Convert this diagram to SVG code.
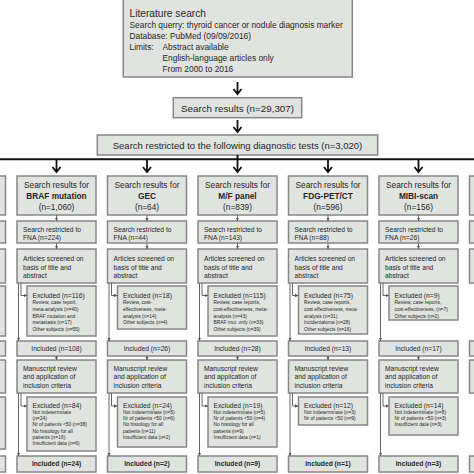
<svg xmlns="http://www.w3.org/2000/svg" width="474" height="474" viewBox="0 0 474 474">
<style>
.box{fill:#e1e3e1;stroke:#878787;stroke-width:1.5}
text{font-family:"Liberation Sans",Arial,sans-serif;fill:#262626}
.h{font-size:8.4px}
.big{font-size:9.8px}
.lit{font-size:10.2px}
.tt{font-size:8.3px;text-anchor:middle}
.b{font-weight:bold}
.m{font-size:6.7px}
.c{text-anchor:middle}
.s{font-size:4.9px}
.conn{stroke:#666;stroke-width:1;fill:none}
.arr{stroke:#111;stroke-width:1.8;fill:none}
</style>
<defs>
<marker id="ah" viewBox="0 0 6 6" refX="6" refY="3" markerWidth="3.5" markerHeight="3.5" orient="auto" markerUnits="userSpaceOnUse"><path d="M0,0 L6,3 L0,6 z" fill="#555"/></marker>
</defs>
<rect width="474" height="474" fill="#fff"/>

<g id="lit-search">
<rect class="box" x="123.3" y="-1" width="229" height="78"/>
<text class="lit" x="129.5" y="16.5">Literature search</text>
<text class="h" x="129.5" y="27.5">Search querry: thyroid cancer or nodule diagnosis marker</text>
<text class="h" x="129.5" y="38.5">Database: PubMed (09/09/2016)</text>
<text class="h" x="129.5" y="49.5">Limits:</text>
<text class="h" x="162.5" y="49.5">Abstract available</text>
<text class="h" x="162.5" y="60.5">English-language articles only</text>
<text class="h" x="162.5" y="72">From 2000 to 2016</text>
</g>
<g id="search-results">
<rect class="box" x="173.3" y="97.7" width="128.4" height="20"/>
<text class="big c" x="237.5" y="112">Search results (n=29,307)</text>
</g>
<g id="search-restricted">
<rect class="box" x="97.3" y="135" width="280.4" height="20"/>
<text class="big c" x="237.5" y="148.5" style="font-size:9.5px">Search restricted to the following diagnostic tests (n=3,020)</text>
</g>

<g id="partial-left">
<rect class="box" x="-73.5" y="176" width="79" height="39"/>
<rect class="box" x="-73.5" y="221" width="79" height="22"/>
<rect class="box" x="-73.5" y="249" width="79" height="34"/>
<rect class="box" x="-63.5" y="286" width="69" height="50"/>
<rect class="box" x="-73.5" y="341" width="79" height="15"/>
<rect class="box" x="-73.5" y="360" width="79" height="33"/>
<rect class="box" x="-63.5" y="397" width="69" height="52"/>
<rect class="box" x="-73.5" y="456" width="79" height="16"/>
</g>
<g id="partial-right">
<rect class="box" x="469.5" y="176" width="79" height="39"/>
<rect class="box" x="469.5" y="221" width="79" height="22"/>
<rect class="box" x="469.5" y="249" width="79" height="34"/>
<rect class="box" x="469.5" y="341" width="79" height="15"/>
<rect class="box" x="469.5" y="360" width="79" height="33"/>
<rect class="box" x="469.5" y="456" width="79" height="16"/>
</g>

<!-- BRAF column x=17 -->
<g id="braf-results"><rect class="box" x="17" y="176" width="79" height="39"/>
<text class="tt" x="56.5" y="188">Search results for</text><text class="tt b" x="56.5" y="199">BRAF mutation</text><text class="tt" x="56.5" y="210">(n=1,060)</text></g>
<g id="braf-fna"><rect class="box" x="17" y="221" width="79" height="22"/>
<text class="m" x="23" y="232.4">Search restricted to</text><text class="m" x="23" y="240.4">FNA (n=224)</text></g>
<g id="braf-screen"><rect class="box" x="17" y="249" width="79" height="34"/>
<text class="m" x="23" y="261.4">Articles screened on</text><text class="m" x="23" y="269.7">basis of title and</text><text class="m" x="23" y="278.4">abstract</text></g>
<g id="braf-excl1"><rect class="box" x="27" y="286" width="69" height="50"/>
<text class="m" x="32.5" y="297.9">Excluded (n=116)</text>
<text class="s" x="32.5" y="304.3">Review, case report,</text><text class="s" x="32.5" y="310.9">meta-analysis (n=40)</text><text class="s" x="32.5" y="317.5">BRAF mutation and</text><text class="s" x="32.5" y="324.1">metastasis (n=17)</text><text class="s" x="32.5" y="330.7">Other subjects (n=55)</text></g>
<g id="braf-incl1"><rect class="box" x="17" y="341" width="79" height="15"/>
<text class="m c" x="56.5" y="350.9">Included (n=108)</text></g>
<g id="braf-review"><rect class="box" x="17" y="360" width="79" height="33"/>
<text class="m" x="23" y="370.7">Manuscript review</text><text class="m" x="23" y="379.1">and application of</text><text class="m" x="23" y="388.1">inclusion criteria</text></g>
<g id="braf-excl2"><rect class="box" x="27" y="397" width="69" height="54"/>
<text class="m" x="32.5" y="408.4">Excluded (n=84)</text>
<text class="s" x="32.5" y="414.2">Not indeterminate</text><text class="s" x="32.5" y="420.3">(n=24)</text><text class="s" x="32.5" y="426.4">Nr of patients &lt;50 (n=38)</text><text class="s" x="32.5" y="432.5">No histology for all</text><text class="s" x="32.5" y="438.6">patients (n=16)</text><text class="s" x="32.5" y="444.7">Insufficient data (n=6)</text></g>
<g id="braf-incl2"><rect class="box" x="17" y="456" width="79" height="16"/>
<text class="m c b" x="56.5" y="466.4">Included (n=24)</text></g>

<!-- GEC column x=107.5 -->
<g id="gec-results"><rect class="box" x="107.5" y="176" width="79" height="39"/>
<text class="tt" x="147" y="188">Search results for</text><text class="tt b" x="147" y="199">GEC</text><text class="tt" x="147" y="210">(n=64)</text></g>
<g id="gec-fna"><rect class="box" x="107.5" y="221" width="79" height="22"/>
<text class="m" x="113.5" y="232.4">Search restricted to</text><text class="m" x="113.5" y="240.4">FNA (n=44)</text></g>
<g id="gec-screen"><rect class="box" x="107.5" y="249" width="79" height="34"/>
<text class="m" x="113.5" y="261.4">Articles screened on</text><text class="m" x="113.5" y="269.7">basis of title and</text><text class="m" x="113.5" y="278.4">abstract</text></g>
<g id="gec-excl1"><rect class="box" x="117.5" y="286" width="69" height="43"/>
<text class="m" x="123" y="297.9">Excluded (n=18)</text>
<text class="s" x="123" y="304.3">Review, cost-</text><text class="s" x="123" y="310.9">effectiveness, meta-</text><text class="s" x="123" y="317.5">analysis (n=14)</text><text class="s" x="123" y="324.1">Other subjects (n=4)</text></g>
<g id="gec-incl1"><rect class="box" x="107.5" y="341" width="79" height="15"/>
<text class="m c" x="147" y="350.9">Included (n=26)</text></g>
<g id="gec-review"><rect class="box" x="107.5" y="360" width="79" height="33"/>
<text class="m" x="113.5" y="370.7">Manuscript review</text><text class="m" x="113.5" y="379.1">and application of</text><text class="m" x="113.5" y="388.1">inclusion criteria</text></g>
<g id="gec-excl2"><rect class="box" x="117.5" y="397" width="69" height="50"/>
<text class="m" x="123" y="408.4">Excluded (n=24)</text>
<text class="s" x="123" y="414.2">Not indeterminate (n=5)</text><text class="s" x="123" y="420.3">Nr of patients &lt;50 (n=6)</text><text class="s" x="123" y="426.4">No histology for all</text><text class="s" x="123" y="432.5">patients (n=11)</text><text class="s" x="123" y="438.6">Insufficient data (n=2)</text></g>
<g id="gec-incl2"><rect class="box" x="107.5" y="456" width="79" height="16"/>
<text class="m c b" x="147" y="466.4">Included (n=2)</text></g>

<!-- M/F column x=198 -->
<g id="mf-results"><rect class="box" x="198" y="176" width="79" height="39"/>
<text class="tt" x="237.5" y="188">Search results for</text><text class="tt b" x="237.5" y="199">M/F panel</text><text class="tt" x="237.5" y="210">(n=839)</text></g>
<g id="mf-fna"><rect class="box" x="198" y="221" width="79" height="22"/>
<text class="m" x="204" y="232.4">Search restricted to</text><text class="m" x="204" y="240.4">FNA (n=143)</text></g>
<g id="mf-screen"><rect class="box" x="198" y="249" width="79" height="34"/>
<text class="m" x="204" y="261.4">Articles screened on</text><text class="m" x="204" y="269.7">basis of title and</text><text class="m" x="204" y="278.4">abstract</text></g>
<g id="mf-excl1"><rect class="box" x="208" y="286" width="69" height="50"/>
<text class="m" x="213.5" y="297.9">Excluded (n=115)</text>
<text class="s" x="213.5" y="304.3">Review, case reports,</text><text class="s" x="213.5" y="310.9">cost-effectiveness, meta-</text><text class="s" x="213.5" y="317.5">analysis (n=43)</text><text class="s" x="213.5" y="324.1">BRAF mut. only (n=33)</text><text class="s" x="213.5" y="330.7">Other subjects (n=39)</text></g>
<g id="mf-incl1"><rect class="box" x="198" y="341" width="79" height="15"/>
<text class="m c" x="237.5" y="350.9">Included (n=28)</text></g>
<g id="mf-review"><rect class="box" x="198" y="360" width="79" height="33"/>
<text class="m" x="204" y="370.7">Manuscript review</text><text class="m" x="204" y="379.1">and application of</text><text class="m" x="204" y="388.1">inclusion criteria</text></g>
<g id="mf-excl2"><rect class="box" x="208" y="397" width="69" height="50"/>
<text class="m" x="213.5" y="408.4">Excluded (n=19)</text>
<text class="s" x="213.5" y="414.2">Not indeterminate (n=5)</text><text class="s" x="213.5" y="420.3">Nr of patients &lt;50 (n=4)</text><text class="s" x="213.5" y="426.4">No histology for all</text><text class="s" x="213.5" y="432.5">patients (n=9)</text><text class="s" x="213.5" y="438.6">Insufficient data (n=1)</text></g>
<g id="mf-incl2"><rect class="box" x="198" y="456" width="79" height="16"/>
<text class="m c b" x="237.5" y="466.4">Included (n=9)</text></g>

<!-- FDG column x=288.5 -->
<g id="fdg-results"><rect class="box" x="288.5" y="176" width="79" height="39"/>
<text class="tt" x="328" y="188">Search results for</text><text class="tt b" x="328" y="199">FDG-PET/CT</text><text class="tt" x="328" y="210">(n=596)</text></g>
<g id="fdg-fna"><rect class="box" x="288.5" y="221" width="79" height="22"/>
<text class="m" x="294.5" y="232.4">Search restricted to</text><text class="m" x="294.5" y="240.4">FNA (n=88)</text></g>
<g id="fdg-screen"><rect class="box" x="288.5" y="249" width="79" height="34"/>
<text class="m" x="294.5" y="261.4">Articles screened on</text><text class="m" x="294.5" y="269.7">basis of title and</text><text class="m" x="294.5" y="278.4">abstract</text></g>
<g id="fdg-excl1"><rect class="box" x="298.5" y="286" width="69" height="48"/>
<text class="m" x="304" y="297.9">Excluded (n=75)</text>
<text class="s" x="304" y="304.3">Review, case reports,</text><text class="s" x="304" y="310.9">cost effectiveness, meta-</text><text class="s" x="304" y="317.5">analysis (n=31)</text><text class="s" x="304" y="324.1">Incidentaloma (n=28)</text><text class="s" x="304" y="330.7">Other subjects (n=16)</text></g>
<g id="fdg-incl1"><rect class="box" x="288.5" y="341" width="79" height="15"/>
<text class="m c" x="328" y="350.9">Included (n=13)</text></g>
<g id="fdg-review"><rect class="box" x="288.5" y="360" width="79" height="33"/>
<text class="m" x="294.5" y="370.7">Manuscript review</text><text class="m" x="294.5" y="379.1">and application of</text><text class="m" x="294.5" y="388.1">inclusion criteria</text></g>
<g id="fdg-excl2"><rect class="box" x="298.5" y="397" width="69" height="28"/>
<text class="m" x="304" y="408.4">Excluded (n=12)</text>
<text class="s" x="304" y="414.2">Not indeterminate (n=3)</text><text class="s" x="304" y="420.3">Nr of patients &lt;50 (n=9)</text></g>
<g id="fdg-incl2"><rect class="box" x="288.5" y="456" width="79" height="16"/>
<text class="m c b" x="328" y="466.4">Included (n=1)</text></g>

<!-- MIBI column x=379 -->
<g id="mibi-results"><rect class="box" x="379" y="176" width="79" height="39"/>
<text class="tt" x="418.5" y="188">Search results for</text><text class="tt b" x="418.5" y="199">MIBI-scan</text><text class="tt" x="418.5" y="210">(n=156)</text></g>
<g id="mibi-fna"><rect class="box" x="379" y="221" width="79" height="22"/>
<text class="m" x="385" y="232.4">Search restricted to</text><text class="m" x="385" y="240.4">FNA (n=26)</text></g>
<g id="mibi-screen"><rect class="box" x="379" y="249" width="79" height="34"/>
<text class="m" x="385" y="261.4">Articles screened on</text><text class="m" x="385" y="269.7">basis of title and</text><text class="m" x="385" y="278.4">abstract</text></g>
<g id="mibi-excl1"><rect class="box" x="389" y="286" width="69" height="34"/>
<text class="m" x="394.5" y="297.9">Excluded (n=9)</text>
<text class="s" x="394.5" y="304.3">Review, case reports,</text><text class="s" x="394.5" y="310.9">cost-effectiveness, (n=7)</text><text class="s" x="394.5" y="317.5">Other subjects (n=2)</text></g>
<g id="mibi-incl1"><rect class="box" x="379" y="341" width="79" height="15"/>
<text class="m c" x="418.5" y="350.9">Included (n=17)</text></g>
<g id="mibi-review"><rect class="box" x="379" y="360" width="79" height="33"/>
<text class="m" x="385" y="370.7">Manuscript review</text><text class="m" x="385" y="379.1">and application of</text><text class="m" x="385" y="388.1">inclusion criteria</text></g>
<g id="mibi-excl2"><rect class="box" x="389" y="397" width="69" height="38"/>
<text class="m" x="394.5" y="408.4">Excluded (n=14)</text>
<text class="s" x="394.5" y="414.2">Not indeterminate (n=8)</text><text class="s" x="394.5" y="420.3">Nr of patients &lt;50 (n=3)</text><text class="s" x="394.5" y="426.4">Insufficient data (n=3)</text></g>
<g id="mibi-incl2"><rect class="box" x="379" y="456" width="79" height="16"/>
<text class="m c b" x="418.5" y="466.4">Included (n=3)</text></g>

<g id="connectors">
<path class="arr" d="M237.5,82V94M233.5,89L237.5,94L241.5,89"/>
<path class="arr" d="M237.5,120V132M233.5,127L237.5,132L241.5,127"/>
<path d="M237.5,155V159M0,159.3H474" stroke="#111" stroke-width="2" fill="none"/>
<path class="arr" d="M56.5,160V172M52.5,167L56.5,172L60.5,167"/>
<path class="arr" d="M147,160V172M143,167L147,172L151,167"/>
<path class="arr" d="M237.5,160V172M233.5,167L237.5,172L241.5,167"/>
<path class="arr" d="M328,160V172M324,167L328,172L332,167"/>
<path class="arr" d="M418.5,160V172M414.5,167L418.5,172L422.5,167"/>
<g class="conn" marker-end="url(#ah)">
<path d="M56.5,215V221"/><path d="M56.5,243V249"/><path d="M56.5,356V360"/>
<path d="M147,215V221"/><path d="M147,243V249"/><path d="M147,356V360"/>
<path d="M237.5,215V221"/><path d="M237.5,243V249"/><path d="M237.5,356V360"/>
<path d="M328,215V221"/><path d="M328,243V249"/><path d="M328,356V360"/>
<path d="M418.5,215V221"/><path d="M418.5,243V249"/><path d="M418.5,356V360"/>
<path d="M21,283V295.5H27"/><path d="M18.5,283V341"/><path d="M21,393V406H27"/><path d="M18.5,393V456"/>
<path d="M111.5,283V295.5H117.5"/><path d="M109,283V341"/><path d="M111.5,393V406H117.5"/><path d="M109,393V456"/>
<path d="M202,283V295.5H208"/><path d="M199.5,283V341"/><path d="M202,393V406H208"/><path d="M199.5,393V456"/>
<path d="M292.5,283V295.5H298.5"/><path d="M290,283V341"/><path d="M292.5,393V406H298.5"/><path d="M290,393V456"/>
<path d="M383,283V295.5H389"/><path d="M380.5,283V341"/><path d="M383,393V406H389"/><path d="M380.5,393V456"/>
</g>
</g>
</svg>
